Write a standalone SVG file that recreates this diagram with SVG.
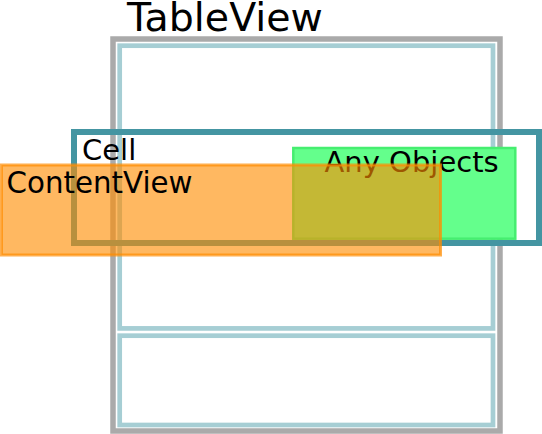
<svg xmlns="http://www.w3.org/2000/svg" width="542" height="434" viewBox="0 0 542 434">
<style>
text{font-family:"DejaVu Sans","Liberation Sans",sans-serif;fill:#000}
.row{fill:#fff;stroke:#a6ced4;stroke-width:4.7}
</style>
<rect width="542" height="434" fill="#fff"/>
<g id="tableview">
<rect x="113" y="39" width="387" height="392" fill="#fff" stroke="#aaaaaa" stroke-width="5.5"/>
<text x="127" y="30.5" font-size="39.5">TableView</text>
</g>
<g id="row1"><rect class="row" x="119.7" y="45.7" width="373.3" height="282.7"/></g>
<g id="row2"><rect class="row" x="119.7" y="335.7" width="373.3" height="89.3"/></g>
<g id="cell">
<rect x="74" y="132" width="465" height="111" fill="none" stroke="#4495a2" stroke-width="6"/>
<text x="82" y="159.5" font-size="29">Cell</text>
</g>
<g id="anyobjects">
<rect x="293.3" y="148" width="222" height="90.7" fill="#64ff8c" stroke="#46ee70" stroke-width="2.5"/>
<text x="324.5" y="171.5" font-size="29">Any Objects</text>
</g>
<g id="contentview">
<rect x="1.5" y="165" width="439" height="90" fill="#ff8c00" fill-opacity="0.62" stroke="#ff8c00" stroke-opacity="0.7" stroke-width="3"/>
<text x="6.5" y="192.7" font-size="29.3">ContentView</text>
</g>
<g id="connectors"/>
</svg>
